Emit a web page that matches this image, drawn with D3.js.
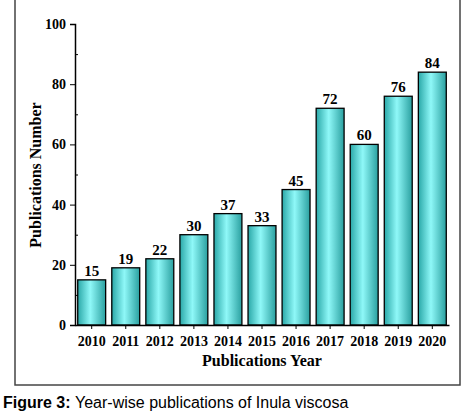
<!DOCTYPE html>
<html><head><meta charset="utf-8">
<script src="https://cdn.jsdelivr.net/npm/d3@7"></script>
<style>body{margin:0;background:#fff}</style>
</head><body>
<svg id="chart" width="474" height="412"></svg>
<script>
var years = ["2010","2011","2012","2013","2014","2015","2016","2017","2018","2019","2020"];
var counts = [15, 19, 22, 30, 37, 33, 45, 72, 60, 76, 84];
var yTicks = [0, 20, 40, 60, 80, 100];

var svg = d3.select("#chart");
var serif = "'Liberation Serif', 'DejaVu Serif', serif";

var defs = svg.append("defs");
var grad = defs.append("linearGradient").attr("id", "barGrad");
grad.append("stop").attr("offset", "0%").attr("stop-color", "#2aa8a8");
grad.append("stop").attr("offset", "45%").attr("stop-color", "#8ff8f8");
grad.append("stop").attr("offset", "100%").attr("stop-color", "#2aa0a0");

// outer frame
svg.append("rect").attr("x", 15).attr("y", -2).attr("width", 445).attr("height", 387)
    .attr("fill", "none").attr("stroke", "#444").attr("stroke-width", 1.5);

var x = d3.scaleBand().domain(years).range([75, 449]).paddingInner(0.18).paddingOuter(0.08);
var y = d3.scaleLinear().domain([0, 100]).range([325, 24]);

svg.selectAll("rect.bar").data(counts).enter().append("rect")
    .attr("class", "bar")
    .attr("x", function(d, i) { return x(years[i]); })
    .attr("y", function(d) { return y(d); })
    .attr("width", x.bandwidth())
    .attr("height", function(d) { return y(0) - y(d); })
    .attr("fill", "url(#barGrad)")
    .attr("stroke", "#000").attr("stroke-width", 1.3);

svg.selectAll("text.val").data(counts).enter().append("text")
    .attr("x", function(d, i) { return x(years[i]) + x.bandwidth() / 2; })
    .attr("y", function(d) { return y(d) - 4; })
    .attr("text-anchor", "middle")
    .attr("font-family", serif).attr("font-weight", "bold").attr("font-size", 15)
    .text(function(d) { return d; });

// y axis
var yAxis = svg.append("g").attr("transform", "translate(75,0)")
    .call(d3.axisLeft(y).tickValues(yTicks).tickSize(5).tickPadding(4));
yAxis.select(".domain").attr("stroke-width", 1.5);
yAxis.selectAll("text").attr("font-family", serif).attr("font-weight", "bold").attr("font-size", 14).attr("fill", "#000");
svg.append("g").attr("transform", "translate(75,0)")
    .call(d3.axisRight(y).tickValues([10, 30, 50, 70, 90]).tickSize(3).tickFormat(""))
    .select(".domain").remove();

// x axis
var xAxis = svg.append("g").attr("transform", "translate(0,325)")
    .call(d3.axisBottom(x).tickSize(0).tickPadding(11));
xAxis.select(".domain").attr("stroke-width", 1.5);
xAxis.selectAll("text").attr("font-family", serif).attr("font-weight", "bold").attr("font-size", 14).attr("fill", "#000");
svg.selectAll("line.xt").data(years).enter().append("line")
    .attr("x1", function(d) { return x(d) + x.bandwidth() / 2; })
    .attr("x2", function(d) { return x(d) + x.bandwidth() / 2; })
    .attr("y1", 325).attr("y2", 329).attr("stroke", "#000");

svg.append("text").attr("x", 262).attr("y", 366).attr("text-anchor", "middle")
    .attr("font-family", serif).attr("font-weight", "bold").attr("font-size", 16)
    .text("Publications Year");
svg.append("text").attr("transform", "translate(41,175) rotate(-90)").attr("text-anchor", "middle")
    .attr("font-family", serif).attr("font-weight", "bold").attr("font-size", 16)
    .text("Publications Number");

// caption
var cap = svg.append("text").attr("x", 3).attr("y", 408)
    .attr("font-family", "'Liberation Sans', Arial, sans-serif").attr("font-size", 16);
cap.append("tspan").attr("font-weight", "bold").text("Figure 3: ");
cap.append("tspan").text("Year-wise publications of Inula viscosa");
</script>
</body></html>
